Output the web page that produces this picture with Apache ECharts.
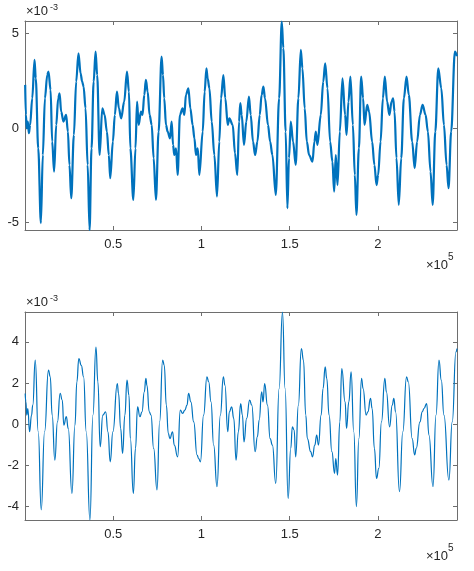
<!DOCTYPE html>
<html>
<head>
<meta charset="utf-8">
<script src="https://cdn.jsdelivr.net/npm/echarts@6/dist/echarts.min.js"></script>
<style>
  html, body { margin: 0; padding: 0; background: #fff; }
  #chart { width: 474px; height: 571px; }
</style>
</head>
<body>
<div id="chart"></div>
<script>
// x in units of 1e5 samples, y in units of 1e-3
var topX = [0.001, 0.005, 0.010, 0.016, 0.022, 0.029, 0.041, 0.054, 0.061, 0.075, 0.090, 0.101, 0.113, 0.126, 0.133, 0.145, 0.154, 0.165, 0.177, 0.188,
  0.196, 0.205, 0.218, 0.233, 0.243, 0.252, 0.262, 0.277, 0.290, 0.303, 0.315, 0.324, 0.332, 0.343, 0.355, 0.366, 0.377, 0.389, 0.400, 0.409,
  0.423, 0.438, 0.451, 0.464, 0.475, 0.483, 0.498, 0.509, 0.521, 0.532, 0.545, 0.562, 0.578, 0.589, 0.597, 0.614, 0.626, 0.635, 0.644, 0.657,
  0.666, 0.676, 0.685, 0.695, 0.706, 0.718, 0.729, 0.742, 0.757, 0.774, 0.782, 0.789, 0.799, 0.808, 0.822, 0.831, 0.839, 0.846, 0.856, 0.865,
  0.878, 0.893, 0.903, 0.912, 0.926, 0.937, 0.950, 0.960, 0.969, 0.979, 0.988, 1.007, 1.018, 1.028, 1.035, 1.045, 1.058, 1.073, 1.088, 1.101,
  1.111, 1.124, 1.135, 1.149, 1.158, 1.177, 1.190, 1.203, 1.213, 1.220, 1.228, 1.241, 1.254, 1.269, 1.279, 1.292, 1.304, 1.317, 1.330, 1.341,
  1.351, 1.360, 1.377, 1.389, 1.402, 1.421, 1.440, 1.455, 1.464, 1.477, 1.487, 1.496, 1.506, 1.519, 1.534, 1.549, 1.563, 1.572, 1.585, 1.597,
  1.610, 1.629, 1.640, 1.648, 1.657, 1.676, 1.690, 1.701, 1.714, 1.729, 1.742, 1.752, 1.761, 1.771, 1.784, 1.799, 1.814, 1.822, 1.833, 1.844,
  1.858, 1.869, 1.878, 1.892, 1.905, 1.916, 1.924, 1.939, 1.950, 1.967, 1.980, 1.992, 2.001, 2.015, 2.028, 2.039, 2.052, 2.065, 2.077, 2.086,
  2.094, 2.105, 2.118, 2.132, 2.147, 2.162, 2.175, 2.194, 2.208, 2.222, 2.238, 2.253, 2.270, 2.283, 2.298, 2.310, 2.325, 2.342, 2.359, 2.374,
  2.389, 2.400, 2.415, 2.436, 2.448];
var topY = [2.28, 0.69, -0.02, 0.34, -0.28, 0.16, 1.57, 3.60, 2.63, -1.08, -5.04, -1.43, 1.57, 2.80, 2.98, 2.01, -0.72, -2.31, 0.16, 1.57,
  1.83, 0.86, 0.34, 0.69, -0.19, -1.96, -3.72, -0.37, 2.45, 3.95, 2.89, 2.45, 2.19, 1.04, -1.96, -5.40, -1.08, 2.45, 4.04, 2.80,
  -1.43, 1.04, 0.69, -0.19, -1.43, -2.66, -0.72, 0.69, 1.92, 1.04, 0.51, 1.39, 2.98, 1.92, -1.08, -3.81, -1.08, 1.39, 0.16, 0.86,
  0.69, 1.75, 2.54, 1.92, 0.69, 0.16, -1.60, -3.81, -0.19, 3.77, 2.80, 1.57, 0.16, -0.19, -0.55, 0.34, -0.90, -1.43, -1.08, -2.49,
  0.69, 1.04, 0.69, 1.75, 2.10, 1.04, 0.16, -0.55, -1.43, -1.08, -2.49, -0.19, 1.92, 3.16, 2.63, 2.10, 0.34, -1.43, -3.63, -0.72,
  1.57, 2.80, 1.57, 0.16, 0.51, 0.16, -1.34, -2.49, 0.34, 1.31, 0.69, -0.90, 0.34, 1.66, 0.69, -0.72, -1.43, -0.72, 0.69, 1.75,
  2.19, 1.57, 0.16, -0.72, -1.43, -3.54, 1.57, 5.63, 4.22, -0.19, -4.25, -1.60, 0.34, -0.72, -1.96, 1.57, 4.13, 3.16, 1.04, -0.72,
  -1.43, -1.78, -0.72, -0.19, -0.90, 0.69, 2.45, 3.42, 2.10, -0.72, -1.78, -3.37, -1.43, -3.02, -0.19, 2.63, 0.69, -0.37, 1.39, 2.72,
  0.16, -2.49, -4.60, -1.08, 2.72, 1.57, 0.16, 1.22, 0.86, -0.72, -1.96, -3.02, -2.49, -0.72, 1.57, 2.72, 1.39, 0.69, 1.39, 1.57,
  0.86, -1.60, -4.07, -1.60, 1.57, 2.72, 1.75, -0.72, -2.13, -0.72, 0.69, 1.22, 0.69, -0.19, -2.31, -4.07, -0.19, 3.16, 2.10, 0.16,
  -1.96, -3.19, -0.19, 4.04, 3.80];

var botX = [0.001, 0.005, 0.010, 0.016, 0.026, 0.037, 0.044, 0.058, 0.075, 0.092, 0.111, 0.133, 0.143, 0.154, 0.169, 0.184, 0.199, 0.211, 0.220, 0.234,
  0.245, 0.266, 0.283, 0.294, 0.305, 0.319, 0.332, 0.347, 0.368, 0.385, 0.402, 0.413, 0.426, 0.441, 0.457, 0.470, 0.483, 0.498, 0.523, 0.530,
  0.542, 0.553, 0.566, 0.578, 0.589, 0.597, 0.614, 0.626, 0.638, 0.651, 0.663, 0.676, 0.685, 0.691, 0.704, 0.714, 0.729, 0.748, 0.763, 0.780,
  0.789, 0.801, 0.812, 0.821, 0.836, 0.846, 0.865, 0.880, 0.893, 0.906, 0.918, 0.927, 0.940, 0.956, 0.975, 0.984, 0.994, 1.012, 1.031, 1.041,
  1.054, 1.069, 1.088, 1.107, 1.124, 1.133, 1.149, 1.158, 1.171, 1.183, 1.196, 1.209, 1.222, 1.232, 1.241, 1.256, 1.273, 1.285, 1.304, 1.317,
  1.327, 1.341, 1.349, 1.358, 1.374, 1.389, 1.402, 1.421, 1.440, 1.459, 1.474, 1.491, 1.506, 1.515, 1.525, 1.534, 1.549, 1.566, 1.578, 1.591,
  1.600, 1.619, 1.629, 1.642, 1.653, 1.663, 1.678, 1.689, 1.701, 1.710, 1.723, 1.739, 1.754, 1.761, 1.771, 1.784, 1.795, 1.814, 1.822, 1.835,
  1.848, 1.863, 1.878, 1.892, 1.907, 1.916, 1.933, 1.943, 1.958, 1.967, 1.980, 1.992, 2.005, 2.020, 2.039, 2.048, 2.066, 2.081, 2.090, 2.100,
  2.122, 2.141, 2.162, 2.172, 2.194, 2.208, 2.217, 2.238, 2.251, 2.261, 2.276, 2.289, 2.312, 2.329, 2.346, 2.359, 2.374, 2.402, 2.421, 2.442,
  2.448];
var botY = [1.49, 1.08, 0.44, 0.76, -0.37, 0.44, 0.92, 3.11, -0.37, -4.17, -0.37, 2.62, 2.30, 0.44, -1.75, 0.11, 1.49, 1.17, -0.05, 0.36,
  -0.21, -3.37, -0.05, 2.06, 3.19, 2.86, 2.30, -0.37, -4.66, 0.44, 3.75, 2.06, -1.10, 0.44, 0.60, -0.37, -1.83, -0.37, 1.97, 1.49,
  -0.21, -1.42, 0.44, 2.14, 1.41, -0.70, -3.37, -1.18, 0.84, 0.36, 0.60, 1.57, 2.22, 1.89, 0.60, 0.44, -1.18, -3.20, 0.11, 3.11,
  2.86, 0.92, -0.45, -0.70, -0.37, -1.02, -1.59, 0.68, 0.52, 0.68, 0.92, 1.49, 1.08, 0.11, -1.50, -1.67, -1.83, 0.44, 2.30, 2.06,
  1.08, -1.02, -3.04, 0.44, 2.30, 1.89, -0.37, 0.60, 0.84, 0.28, -1.75, -0.37, 1.00, 0.44, -0.86, 0.28, 1.17, 0.92, -1.34, -0.61,
  0.19, 1.57, 1.08, 1.97, 0.92, -0.70, -1.02, -2.88, 1.73, 5.45, 1.73, -3.61, -1.18, -0.13, -0.29, -1.59, 0.92, 3.67, 3.11, 0.44,
  -0.70, -1.34, -1.59, -1.02, -0.53, -1.02, 0.44, 1.73, 2.78, 2.22, 0.44, -1.34, -2.39, -1.67, -2.48, 0.11, 2.70, 1.08, -0.21, 1.08,
  2.54, -0.37, -4.01, -0.70, 2.22, 1.73, 0.44, 0.60, 1.25, 0.76, -1.18, -2.64, -2.15, 0.11, 2.22, 1.57, -0.13, 0.92, 1.25, 0.60,
  -3.28, -0.37, 2.30, 2.06, -0.70, -1.50, -1.18, 0.11, 0.60, 0.76, 1.00, -0.53, -3.04, 0.44, 3.11, 2.14, 0.44, -2.72, 0.11, 3.51,
  3.67];

var xTicks = [0.5, 1, 1.5, 2];
var topYTicks = [-5, 0, 5];
var botYTicks = [-4, -2, 0, 2, 4];

var lineColor = '#0072BD';
var boxColor = '#6e6e6e';
var textColor = '#262626';

function pairs(xs, ys) {
  var out = [];
  for (var i = 0; i < xs.length; i++) out.push([xs[i], ys[i]]);
  return out;
}

function xAxisFor(grid, pos, ticks, labels) {
  return {
    type: 'value', gridIndex: grid, position: pos, min: 0, max: 2.448,
    axisLine: { show: true, onZero: false, lineStyle: { color: boxColor, width: 1 } },
    axisTick: { show: true, inside: true, length: 4, customValues: ticks, lineStyle: { color: boxColor } },
    axisLabel: { show: labels, customValues: ticks, margin: 8, color: textColor, fontSize: 13, fontFamily: 'Liberation Sans, Arial, sans-serif' },
    splitLine: { show: false }
  };
}

function yAxisFor(grid, pos, min, max, ticks, labels) {
  return {
    type: 'value', gridIndex: grid, position: pos, min: min, max: max,
    axisLine: { show: true, onZero: false, lineStyle: { color: boxColor, width: 1 } },
    axisTick: { show: true, inside: true, length: 4, customValues: ticks, lineStyle: { color: boxColor } },
    axisLabel: { show: labels, customValues: ticks, margin: 6, color: textColor, fontSize: 13, fontFamily: 'Liberation Sans, Arial, sans-serif' },
    splitLine: { show: false }
  };
}

function label(x, y, text, size) {
  return {
    type: 'text', left: x, top: y,
    style: { text: text, fill: textColor, fontSize: size, fontFamily: 'Liberation Sans, Arial, sans-serif' }
  };
}

var myChart = echarts.init(document.getElementById('chart'));

var option = {
  animation: false,
  backgroundColor: '#fff',
  grid: [
    { left: 25, top: 21, right: 17, height: 209 },
    { left: 25, top: 312, right: 17, height: 208 }
  ],
  xAxis: [
    xAxisFor(0, 'bottom', xTicks, true),
    xAxisFor(0, 'top', xTicks, false),
    xAxisFor(1, 'bottom', xTicks, true),
    xAxisFor(1, 'top', xTicks, false)
  ],
  yAxis: [
    yAxisFor(0, 'left', -5.40, 5.66, topYTicks, true),
    yAxisFor(0, 'right', -5.40, 5.66, topYTicks, false),
    yAxisFor(1, 'left', -4.66, 5.45, botYTicks, true),
    yAxisFor(1, 'right', -4.66, 5.45, botYTicks, false)
  ],
  series: [
    {
      type: 'line', xAxisIndex: 0, yAxisIndex: 0,
      data: pairs(topX, topY),
      showSymbol: false, smooth: 0.35, smoothMonotone: 'x',
      lineStyle: { color: lineColor, width: 2.2 }
    },
    {
      type: 'line', xAxisIndex: 2, yAxisIndex: 2,
      data: pairs(botX, botY),
      showSymbol: false, smooth: 0.5, smoothMonotone: 'x',
      lineStyle: { color: lineColor, width: 1.2 }
    }
  ],
  graphic: [
    label(26, 5, '\u00d710', 13),
    label(50, 3, '-3', 9),
    label(426, 259, '\u00d710', 13),
    label(448, 252, '5', 10),
    label(26, 296, '\u00d710', 13),
    label(50, 294, '-3', 9),
    label(426, 550, '\u00d710', 13),
    label(448, 543, '5', 10)
  ]
};

myChart.setOption(option);
</script>
</body>
</html>
